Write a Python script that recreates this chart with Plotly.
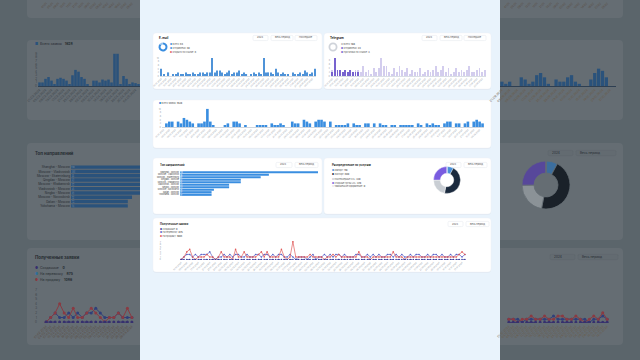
import plotly.graph_objects as go
import pandas as pd

# ---------------- DATA ----------------
email_values = [4,1,0,2,0,1,1,2,1,1,2,1,1,2,1,1,2,2,1,2,2,10,2,3,3,2,1,2,3,1,
                2,2,3,1,2,1,0,1,2,1,2,1,10,2,2,2,1,4,2,1,2,1,1,0,2,1,1,2,1,3,2,1,2,4]
tg_total = [3,9,3,3,2,3,2,3,2,3,3,2,5,2,3,1,4,2,4,9,
            5,5,2,1,4,2,5,3,2,4,1,3,2,2,4,1,2,3,2,3,
            5,2,3,5,2,4,1,2,4,2,3,2,3,5,2,2,3,4,2,3]
tg_read = [2,9,3,3,2,3,2,3,2,2,2,0,0,0,0,0,0,0,0,0,
           0,0,0,0,0,0,0,0,0,0,0,0,0,0,0,0,0,0,0,0,
           0,0,0,0,0,0,0,0,0,0,0,0,0,0,0,0,0,0,0,0]
requests_values = [0,2,3,3,0,3,2,5,4,3, 2,0,2,2,3,10,3,1,0,0,
                   0,1,2,0,3,3,2,0,1,0, 0,0,1,1,1,1,0,2,1,1,
                   2,1,0,0,3,2,2,0,4,3, 2,0,3,4,4,3,0,3,0,1,
                   1,1,1,2,0,2,1,1,0,2, 2,0,2,0,2,1,1,0,1,1,
                   0,1,1,1,1,1,0,2,1,0, 2,1,2,1,1,0,2,3,3,0,
                   2,2,0,2,3,0,3,4,3,2]
routes = ["Shanghai - Moscow", "Moscow - Vladivostok", "Moscow - Ekaterinburg",
          "Qingdao - Moscow", "Moscow - Khabarovsk", "Vladivostok - Moscow",
          "Ningbo - Moscow", "Moscow - Novosibirsk", "Dalian - Moscow", "Yokohama - Moscow"]
route_values = [118, 76, 69, 52, 52, 42, 42, 29, 27, 27]
services = ["Импорт", "Экспорт", "Контейнерные FCL", "Сборные грузы LCL", "Таможенное оформление"]
service_values = [118, 680, 330, 378, 0]
service_colors = ["#4a90d9", "#1b2a3e", "#c9ced4", "#7a5ce0", "#e6e8eb"]
orders_created = [0,0,0,0,0,0,0,0,0,0, 0,0,0,0,0,0,0,0,0,0,
                  0,0,0,0,0,0,0,0,0,0, 0,0,0,0,0,0,0,0,0,0,
                  0,0,0,0,0,0,0,0,0,0, 0,0,0,0,0,0,0,0,0,0,
                  0,0,0,0,0,0,0,0,0,0, 0,0,0,0,0,0,0,0,0,0,
                  0,0,0,0,0,0,0,0,0,0, 0,0,0,0,0,0,0,0,0,0]
orders_sale = [0,1,3,4,1,0,1,1,1,2, 1,1,0,1,3,1,1,1,0,4,
               1,1,3,1,1,1,1,2,3,1, 3,1,1,1,1,4,1,0,1,7,
               1,1,1,1,1,2,1,1,1,1, 0,1,1,2,1,2,1,1,1,1,
               1,1,3,1,1,1,0,1,1,1, 1,1,1,1,3,1,1,1,0,1,
               1,1,1,1,1,1,1,1,1,1, 1,1,1,1,1,1,1,2,3,2]
orders_transport = [0,1,2,2,1,2,1,2,2,2, 3,1,0,1,1,2,1,2,1,2,
                    2,1,1,2,1,1,2,2,1,2, 2,1,2,1,2,2,1,1,2,1,
                    0,1,1,1,0,1,2,0,1,1, 2,1,2,1,2,2,1,2,1,1,
                    1,2,2,1,1,2,1,2,1,2, 1,1,2,2,1,2,1,2,1,1,
                    2,1,2,2,1,1,2,1,2,2, 1,2,1,1,2,1,2,2,1,2]
# magnified (dimmed) background views
bg_left_bars = [1,1,2,2.5,1.5,0.5,2,2.3,2,1.5,0.5,3,4.5,4,2.5,2,0.5,0,1.5,1.5,
                1,1.8,1.5,1.8,1,9,9,0.5,2.8,2,0.5,1,0.8,0.5]
bg_left_sale = [0,1,2,4,2,1,3,1,1,2,3,2,1,0,1,1,2,1,3,1]
bg_left_transport = [0,1,2,1,1,2,1,2,1,2,2,3,2,1,1,1,2,1,1,1]
bg_right_bars = [1,0.5,1,0,0,2,1.5,0.5,1,2.5,3,2,0.5,0,1.5,1,1,2,2.5,1,
                 0.5,0,0,1.5,3,4,3.5,2,0,0]
bg_right_sale = [1,1,0,1,1,2,1,1,2,1,1,2,2,1,1,2,1,0,1,2,1,3,1]
bg_right_transport = [1,1,1,0,1,1,1,1,1,1,2,1,1,1,1,1,1,1,0,1,1,2,1]
bg_top_ticks = ["01.01", "05.01", "09.01", "13.01", "17.01", "21.01", "25.01", "29.01",
                "02.02", "06.02", "10.02", "14.02", "18.02", "22.02", "26.02"]

# ---------------- HELPERS ----------------
W, H = 640, 360
FONT = "Inter"
def X(x): return x / W
def Y(y): return 1 - y / H
def dx(a, b): return [a / W, b / W]
def dy(a, b): return [1 - b / H, 1 - a / H]

def dates(n, start="2024-01-01", freq="3D"):
    return list(pd.date_range(start, periods=n, freq=freq).strftime("%d.%m.%Y"))

shapes, annotations = [], []

def rrect(x0, y0, x1, y1, r, fill, line=None, lw=0.6):
    rx, ry = r / W, r / H
    a0, a1, b0, b1 = X(x0), X(x1), Y(y0), Y(y1)
    path = (f"M{a0+rx},{b0} L{a1-rx},{b0} Q{a1},{b0} {a1},{b0-ry} "
            f"L{a1},{b1+ry} Q{a1},{b1} {a1-rx},{b1} L{a0+rx},{b1} Q{a0},{b1} {a0},{b1+ry} "
            f"L{a0},{b0-ry} Q{a0},{b0} {a0+rx},{b0} Z")
    shapes.append(dict(type="path", xref="paper", yref="paper", path=path,
                       fillcolor=fill, layer="below",
                       line=dict(color=line if line else fill, width=lw if line else 0)))

def txt(x, y, s, size=3, color="#333", xanchor="left", family=FONT):
    annotations.append(dict(x=X(x), y=Y(y), xref="paper", yref="paper", text=s,
                            showarrow=False, xanchor=xanchor, yanchor="middle",
                            font=dict(size=size, color=color, family=family)))

def dropdown(x0, x1, y, label, size=2.4, fill="#ffffff", line="#e3e7ec", color="#555"):
    rrect(x0, y - 2.6, x1, y + 2.6, 1.2, fill, line, 0.5)
    txt(x0 + 1.5, y, label, size, color)

# ---------------- BACKGROUND ----------------
BG_DIM = "#5b656b"
CARD_DIM = "#656d73"
TXT_DIM = "#262c31"
for x0, x1 in [(27, 150), (490, 623)]:
    for y0, y1 in [(-10, 18), (40, 120), (143, 240), (248, 345)]:
        rrect(x0, y0, x1, y1, 4, CARD_DIM)
shapes.append(dict(type="rect", xref="paper", yref="paper", x0=X(140), x1=X(500),
                   y0=0, y1=1, fillcolor="#e9f3fc", line=dict(width=0), layer="below"))

cards = [(153, 33, 322, 89), (324, 33, 491, 89), (153, 100, 491, 148),
         (153, 158, 322, 214), (324, 158, 491, 214), (153, 218, 491, 272)]
for c in cards:
    rrect(c[0], c[1] + 0.8, c[2], c[3] + 0.8, 3, "#dfe8f1")
    rrect(*c, 3, "#ffffff", "#edf1f5", 0.4)

fig = go.Figure()

def xax(dom, anchor, size=2.2, color="#9aa3ad", **kw):
    d = dict(domain=dx(*dom), anchor=anchor, showgrid=False, zeroline=False,
             showline=False, ticks="", tickangle=-45, fixedrange=True, automargin=False,
             tickfont=dict(size=size, color=color, family=FONT))
    d.update(kw)
    return d

def yax(dom, anchor, size=2.2, color="#9aa3ad", **kw):
    d = dict(domain=dy(*dom), anchor=anchor, showgrid=False, zeroline=False,
             showline=False, ticks="", fixedrange=True, automargin=False,
             tickfont=dict(size=size, color=color, family=FONT))
    d.update(kw)
    return d

NOLINE = dict(width=0)
layout_axes = {}

# 1 E-mail
d1 = dates(len(email_values))
fig.add_trace(go.Bar(x=d1, y=email_values, marker=dict(color="#4f93d8", line=NOLINE),
                     width=0.45, xaxis="x", yaxis="y"))
layout_axes["xaxis"] = xax((160, 316), "y", showline=True, linecolor="#d9dee4", linewidth=0.4)
layout_axes["yaxis"] = yax((57, 76), "x", range=[0, 10.5], dtick=2)

# 2 Telegram
d2 = dates(len(tg_total))
fig.add_trace(go.Bar(x=d2, y=tg_total, marker=dict(color="#d3cdee", line=NOLINE),
                     width=0.3, xaxis="x2", yaxis="y2"))
fig.add_trace(go.Bar(x=d2, y=tg_read, marker=dict(color="#7763cf", line=NOLINE),
                     width=0.3, xaxis="x2", yaxis="y2"))
layout_axes["xaxis2"] = xax((331, 486), "y2", showline=True, linecolor="#d9dee4", linewidth=0.4)
layout_axes["yaxis2"] = yax((57, 76), "x2", range=[0, 9.5], dtick=2)

# 3 All requests
d3 = dates(len(requests_values), freq="2D")
fig.add_trace(go.Bar(x=d3, y=requests_values, marker=dict(color="#3a8ee0", line=NOLINE),
                     width=0.9, xaxis="x3", yaxis="y3"))
layout_axes["xaxis3"] = xax((162, 484), "y3", showline=True, linecolor="#cfd6de", linewidth=0.4)
layout_axes["yaxis3"] = yax((108, 127), "x3", range=[0, 10.5], dtick=2)

# 4 Top routes
fig.add_trace(go.Bar(x=route_values, y=routes, orientation="h",
                     marker=dict(color="#3a8ee0", line=NOLINE),
                     width=0.88, text=[str(v) for v in route_values],
                     textposition="inside", insidetextanchor="start",
                     textfont=dict(size=1.8, color="#ffffff", family=FONT),
                     xaxis="x4", yaxis="y4"))
layout_axes["xaxis4"] = xax((180, 318), "y4", showticklabels=False, range=[0, 118])
layout_axes["yaxis4"] = yax((171, 196), "x4", size=2.0, color="#444",
                            autorange="reversed")

# 5 Received orders
d5 = dates(len(orders_sale), freq="2D")
for vals, col, dash in [(orders_transport, "#5a63c9", "solid"),
                        (orders_sale, "#e05a5a", "solid"),
                        (orders_created, "#3b3f9c", "dot")]:
    fig.add_trace(go.Scatter(x=d5, y=vals, mode="lines+markers",
                             line=dict(color=col, width=0.7, dash=dash),
                             marker=dict(size=1.6, color=col), xaxis="x5", yaxis="y5"))
layout_axes["xaxis5"] = xax((162, 484), "y5")
layout_axes["yaxis5"] = yax((241, 260), "x5", range=[-0.2, 7.3], dtick=1)

# 6 left dim bars
d6 = dates(len(bg_left_bars), start="2024-03-01", freq="2D")
fig.add_trace(go.Bar(x=d6, y=bg_left_bars, marker=dict(color="#2a527b", line=NOLINE),
                     width=0.85, xaxis="x6", yaxis="y6"))
layout_axes["xaxis6"] = xax((38, 140), "y6", size=3.2, color="#3b4247",
                            showline=True, linecolor="#2e3f52", linewidth=0.8)
layout_axes["yaxis6"] = yax((52, 86), "x6", size=3.0, color="#3b4247", range=[0, 9.5], dtick=1)

# 7 left dim routes
fig.add_trace(go.Bar(x=route_values, y=routes, orientation="h",
                     marker=dict(color="#2a527b", line=NOLINE),
                     width=0.8, text=[str(v) for v in route_values],
                     textposition="inside", insidetextanchor="start",
                     textfont=dict(size=3.0, color="#7c8fa3", family=FONT),
                     xaxis="x7", yaxis="y7"))
layout_axes["xaxis7"] = xax((71, 140), "y7", showticklabels=False, range=[0, 32.8])
layout_axes["yaxis7"] = yax((165, 208), "x7", size=3.0, color=TXT_DIM, autorange="reversed")

# 8 left dim lines
d8 = dates(len(bg_left_sale), start="2024-02-01", freq="3D")
fig.add_trace(go.Scatter(x=d8, y=bg_left_transport, mode="lines+markers",
                         line=dict(color="#2f3f7a", width=1), marker=dict(size=3, color="#2f3f7a"),
                         xaxis="x8", yaxis="y8"))
fig.add_trace(go.Scatter(x=d8, y=bg_left_sale, mode="lines+markers",
                         line=dict(color="#8a3a42", width=1), marker=dict(size=3, color="#8a3a42"),
                         xaxis="x8", yaxis="y8"))
fig.add_trace(go.Scatter(x=d8, y=orders_created[:len(d8)], mode="lines+markers",
                         line=dict(color="#36306e", width=1, dash="dash"),
                         marker=dict(size=3, color="#36306e"), xaxis="x8", yaxis="y8"))
layout_axes["xaxis8"] = xax((38, 140), "y8", size=3.2, color="#5a4a3e")
layout_axes["yaxis8"] = yax((290, 323), "x8", size=3.0, color="#3b4247", range=[-0.2, 7], dtick=1)

# 9 right dim bars
d9 = dates(len(bg_right_bars), start="2024-09-01", freq="2D")
fig.add_trace(go.Bar(x=d9, y=bg_right_bars, marker=dict(color="#2a527b", line=NOLINE),
                     width=0.85, xaxis="x9", yaxis="y9"))
layout_axes["xaxis9"] = xax((500, 616), "y9", size=3.2, color="#6b5a45",
                            showline=True, linecolor="#2e3f52", linewidth=0.8)
layout_axes["yaxis9"] = yax((60, 86), "x9", showticklabels=False, range=[0, 6])

# 10 right dim lines
d10 = dates(len(bg_right_sale), start="2024-10-01", freq="2D")
fig.add_trace(go.Scatter(x=d10, y=bg_right_transport, mode="lines+markers",
                         line=dict(color="#2f3f7a", width=1), marker=dict(size=3, color="#2f3f7a"),
                         xaxis="x10", yaxis="y10"))
fig.add_trace(go.Scatter(x=d10, y=bg_right_sale, mode="lines+markers",
                         line=dict(color="#8a3a42", width=1), marker=dict(size=3, color="#8a3a42"),
                         xaxis="x10", yaxis="y10"))
fig.add_trace(go.Scatter(x=d10, y=orders_created[:len(d10)], mode="lines+markers",
                         line=dict(color="#36306e", width=1, dash="dash"),
                         marker=dict(size=3, color="#36306e"), xaxis="x10", yaxis="y10"))
layout_axes["xaxis10"] = xax((500, 616), "y10", size=3.2, color="#6b5a45")
layout_axes["yaxis10"] = yax((300, 323), "x10", showticklabels=False, range=[-0.2, 7])

# top partial cards: only tick labels of the card above are visible
for k, (a, b) in zip((11, 12), [(38, 140), (500, 616)]):
    fig.add_trace(go.Scatter(x=bg_top_ticks, y=[0] * len(bg_top_ticks), mode="markers",
                             marker=dict(size=0.1, opacity=0), xaxis=f"x{k}", yaxis=f"y{k}"))
    layout_axes[f"xaxis{k}"] = xax((a, b), f"y{k}", size=2.8, color="#5a4a3e")
    layout_axes[f"yaxis{k}"] = yax((0, 0.3), f"x{k}", showticklabels=False)

# ---------------- PIES ----------------
def pie_dom(cx, cy, r):
    return dict(x=dx(cx - r, cx + r), y=dy(cy - r, cy + r))

fig.add_trace(go.Pie(values=service_values, labels=services, hole=0.5, sort=False,
                     direction="clockwise", rotation=0, textinfo="none",
                     marker=dict(colors=service_colors, line=dict(color="#ffffff", width=0.4)),
                     domain=pie_dom(447, 180, 13.5)))
dim_colors = ["#3c6e9e", "#1a2129", "#8b9297", "#57479a", "#777777"]
fig.add_trace(go.Pie(values=service_values, labels=services, hole=0.5, sort=False,
                     direction="clockwise", rotation=0, textinfo="none",
                     marker=dict(colors=dim_colors, line=dict(color=CARD_DIM, width=0.8)),
                     domain=pie_dom(546, 185, 24)))
fig.add_trace(go.Pie(values=[88, 12], hole=0.55, sort=False, textinfo="none",
                     marker=dict(colors=["#3a8ee0", "#9cc6ee"]),
                     domain=pie_dom(163, 47, 4.5)))
fig.add_trace(go.Pie(values=[100], hole=0.6, sort=False, textinfo="none",
                     marker=dict(colors=["#cfd3da"]),
                     domain=pie_dom(333, 47, 4.5)))

# ---------------- TEXTS ----------------
TC = "#222"
LS = 2.2
# card 1
txt(157, 38, "<b>E-mail</b>", 3.0, TC)
txt(168, 44.5, "<span style='color:#3a8ee0'>●</span> Всего: <b>64</b>", LS, "#555")
txt(168, 48.3, "<span style='color:#3a8ee0'>●</span> Отправлено: <b>48</b>", LS, "#555")
txt(168, 52.1, "<span style='color:#e06060'>●</span> Открыто по ссылке: <b>6</b>", LS, "#555")
dropdown(253, 268, 38, "2024")
dropdown(271, 293, 38, "Весь период")
dropdown(295, 317, 38, "Последние")
# card 2
txt(328, 38, "<b>Telegram</b>", 3.0, TC)
txt(339, 44.5, "<span style='color:#bbb'>●</span> Всего: <b>188</b>", LS, "#555")
txt(339, 48.3, "<span style='color:#7763cf'>●</span> Отправлено: <b>34</b>", LS, "#555")
txt(339, 52.1, "<span style='color:#7763cf'>●</span> Прочитано по ссылке: <b>3</b>", LS, "#555")
dropdown(422, 437, 38, "2024")
dropdown(440, 462, 38, "Весь период")
dropdown(464, 486, 38, "Последние")
# card 3
txt(157, 103.5, "<span style='color:#3a8ee0'>■</span> Всего заявок: <b>1628</b>", LS, "#555")
# card 4
txt(158, 165, "<b>Топ направлений</b>", 2.8, TC)
dropdown(276, 292, 165, "2024")
dropdown(295, 318, 165, "Весь период")
# card 5
txt(330, 165, "<b>Распределение по услугам</b>", 2.8, TC)
for i, (s, v, c) in enumerate(zip(services, service_values, service_colors)):
    txt(330, 170.5 + 4 * i, f"<span style='color:{c}'>●</span> {s}: <b>{v}</b>", LS, "#555")
dropdown(446, 461, 165, "2024")
dropdown(464, 487, 165, "Весь период")
# card 6
txt(158, 224, "<b>Полученные заявки</b>", 2.8, TC)
txt(158, 229, "<span style='color:#3b3f9c'>●</span> Созданные: <b>0</b>", LS, "#555")
txt(158, 232.6, "<span style='color:#5a63c9'>●</span> На перевозку: <b>875</b>", LS, "#555")
txt(158, 236.2, "<span style='color:#e05a5a'>●</span> На продажу: <b>1086</b>", LS, "#555")
dropdown(448, 463, 224, "2024")
dropdown(466, 489, 224, "Весь период")

# dim left texts
txt(33, 44, "<span style='color:#2a527b'>■</span>  Всего заявок   <b>1628</b>", 3.4, TXT_DIM)
txt(33, 153, "<b>Топ направлений</b>", 4.4, TXT_DIM)
txt(33, 257, "<b>Полученные заявки</b>", 4.4, TXT_DIM)
txt(33, 268, "<span style='color:#36306e'>●</span>  Созданные    <b>0</b>", 3.4, TXT_DIM)
txt(33, 274, "<span style='color:#2f6f9a'>●</span>  На перевозку    <b>875</b>", 3.4, TXT_DIM)
txt(33, 280, "<span style='color:#8a3a42'>●</span>  На продажу    <b>1086</b>", 3.4, TXT_DIM)
# dim right dropdowns
for yy, xs in [(153, [(548, 573, "2024"), (576, 616, "Весь период")]),
               (257, [(550, 575, "2024"), (578, 618, "Весь период")])]:
    for a, b, lab in xs:
        dropdown(a, b, yy, lab, size=3.2, fill="#636b71", line="#5e666c", color=TXT_DIM)

fig.update_layout(
    width=W, height=H, margin=dict(l=0, r=0, t=0, b=0, pad=0),
    paper_bgcolor=BG_DIM, plot_bgcolor="rgba(0,0,0,0)",
    showlegend=False, barmode="overlay", bargap=0.2,
    shapes=shapes, annotations=annotations,
    font=dict(family=FONT),
    **layout_axes,
)
fig.write_html("out.html", config={"displayModeBar": False},
               post_script="document.body.style.margin='0';document.body.style.overflow='hidden';")
